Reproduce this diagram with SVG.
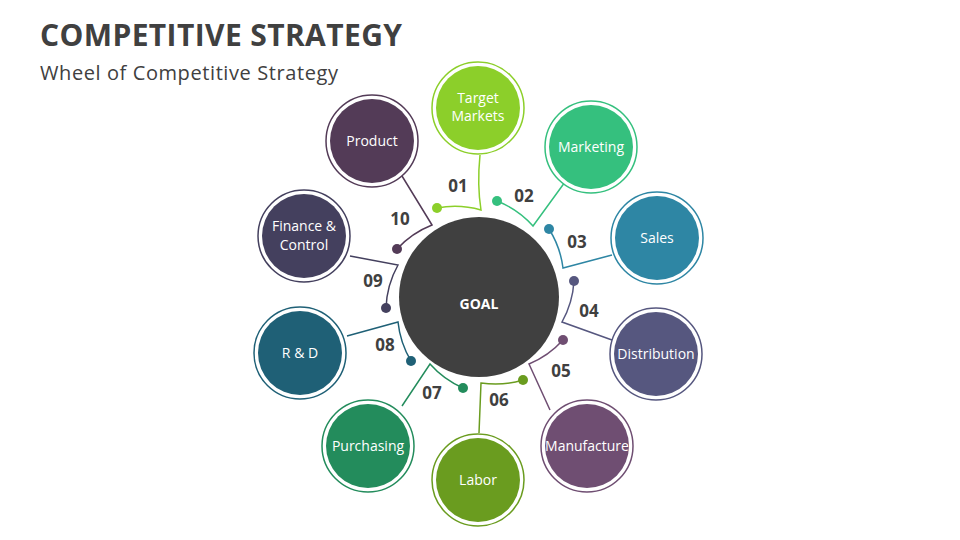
<svg xmlns="http://www.w3.org/2000/svg" width="960" height="540" viewBox="0 0 960 540">
<style>
.t{font-family:"Open Sans","Liberation Sans",sans-serif;fill:#fff;font-size:14px;text-anchor:middle}
.n{font-family:"Open Sans","Liberation Sans",sans-serif;fill:#404040;font-size:17px;font-weight:bold;text-anchor:middle}
.c{fill:none;stroke-width:1.5}
.ring{fill:#fff;stroke-width:1.5}
</style>
<rect width="960" height="540" fill="#fff"/>
<text x="40" y="46" font-family="Open Sans, Liberation Sans, sans-serif" font-weight="bold" font-size="30" fill="#404040" textLength="362">COMPETITIVE STRATEGY</text>
<text x="40" y="80" font-family="Open Sans, Liberation Sans, sans-serif" font-size="20" fill="#404040" textLength="298">Wheel of Competitive Strategy</text>
<g id="connectors">
<path class="c" stroke="#8ccf2a" d="M480 155 Q477 185 481 210 A95 95 0 0 0 437 208"/><circle cx="437" cy="208" r="5" fill="#8ccf2a"/>
<path class="c" stroke="#35c07e" d="M565 182 L533 226 A95 95 0 0 0 497 201"/><circle cx="497" cy="201" r="5" fill="#35c07e"/>
<path class="c" stroke="#2e86a4" d="M612 255 L563 268 A95 95 0 0 0 549 229"/><circle cx="549" cy="229" r="5" fill="#2e86a4"/>
<path class="c" stroke="#56577f" d="M612 340 L562 322 A95 95 0 0 0 574 281"/><circle cx="574" cy="281" r="5" fill="#56577f"/>
<path class="c" stroke="#6f4e72" d="M550 410 L529 364 A95 95 0 0 0 563 340"/><circle cx="563" cy="340" r="5" fill="#6f4e72"/>
<path class="c" stroke="#6a9c1f" d="M479 433 L481 383 A95 95 0 0 0 523 380"/><circle cx="523" cy="380" r="5" fill="#6a9c1f"/>
<path class="c" stroke="#238c5c" d="M402 406 L430 364 A95 95 0 0 0 463 388"/><circle cx="463" cy="388" r="5" fill="#238c5c"/>
<path class="c" stroke="#1f6076" d="M347 336 L398 322 A95 95 0 0 0 411 361"/><circle cx="411" cy="361" r="5" fill="#1f6076"/>
<path class="c" stroke="#44405e" d="M350 256 L398 265 A95 95 0 0 0 386 308"/><circle cx="386" cy="308" r="5" fill="#44405e"/>
<path class="c" stroke="#533b57" d="M402 176 L432 225 A95 95 0 0 0 397 249"/><circle cx="397" cy="249" r="5" fill="#533b57"/>
</g>
<g id="goal"><circle cx="479" cy="297" r="80" fill="#404040"/><text x="479" y="309" class="t" font-size="34" font-weight="bold">GOAL</text></g>
<g id="n01"><circle cx="478" cy="108" r="46" class="ring" stroke="#8ccf2a"/><circle cx="478" cy="108" r="42" fill="#8ccf2a"/><text x="478" y="103" class="t">Target</text><text x="478" y="121" class="t">Markets</text></g>
<g id="n02"><circle cx="591" cy="147" r="46" class="ring" stroke="#35c07e"/><circle cx="591" cy="147" r="42" fill="#35c07e"/><text x="591" y="152" class="t">Marketing</text></g>
<g id="n03"><circle cx="657" cy="238" r="46" class="ring" stroke="#2e86a4"/><circle cx="657" cy="238" r="42" fill="#2e86a4"/><text x="657" y="243" class="t">Sales</text></g>
<g id="n04"><circle cx="656" cy="354" r="46" class="ring" stroke="#56577f"/><circle cx="656" cy="354" r="42" fill="#56577f"/><text x="656" y="359" class="t">Distribution</text></g>
<g id="n05"><circle cx="587" cy="446" r="46" class="ring" stroke="#6f4e72"/><circle cx="587" cy="446" r="42" fill="#6f4e72"/><text x="587" y="451" class="t">Manufacture</text></g>
<g id="n06"><circle cx="478" cy="480" r="46" class="ring" stroke="#6a9c1f"/><circle cx="478" cy="480" r="42" fill="#6a9c1f"/><text x="478" y="485" class="t">Labor</text></g>
<g id="n07"><circle cx="368" cy="446" r="46" class="ring" stroke="#238c5c"/><circle cx="368" cy="446" r="42" fill="#238c5c"/><text x="368" y="451" class="t">Purchasing</text></g>
<g id="n08"><circle cx="300" cy="353" r="46" class="ring" stroke="#1f6076"/><circle cx="300" cy="353" r="42" fill="#1f6076"/><text x="300" y="358" class="t">R &amp; D</text></g>
<g id="n09"><circle cx="304" cy="236" r="46" class="ring" stroke="#44405e"/><circle cx="304" cy="236" r="42" fill="#44405e"/><text x="304" y="231" class="t">Finance &amp;</text><text x="304" y="250" class="t">Control</text></g>
<g id="n10"><circle cx="372" cy="141" r="46" class="ring" stroke="#533b57"/><circle cx="372" cy="141" r="42" fill="#533b57"/><text x="372" y="146" class="t">Product</text></g>
<g id="labels">
<text x="458" y="192" class="n">01</text><text x="524" y="202" class="n">02</text><text x="577" y="248" class="n">03</text><text x="589" y="317" class="n">04</text><text x="561" y="377" class="n">05</text><text x="499" y="406" class="n">06</text><text x="432" y="399" class="n">07</text><text x="385" y="351" class="n">08</text><text x="373" y="287" class="n">09</text><text x="400" y="225" class="n">10</text>
</g>
</svg>
